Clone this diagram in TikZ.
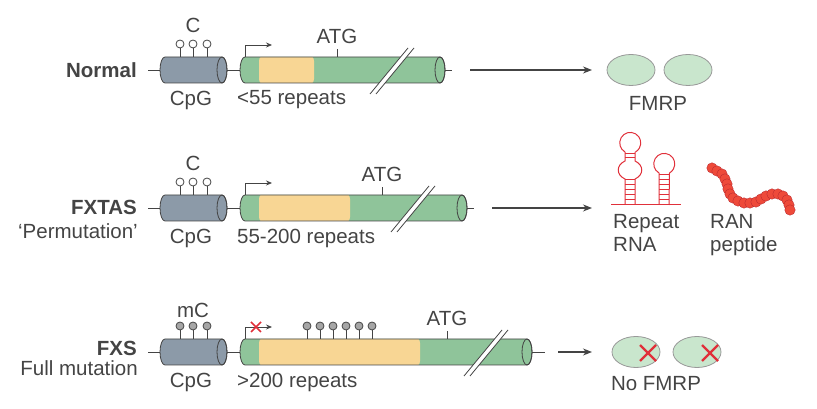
\documentclass[tikz,border=0pt]{standalone}
\usepackage{fontspec}
\setmainfont{Liberation Sans}
\usetikzlibrary{arrows.meta, shapes.geometric}
\definecolor{cpggray}{HTML}{8C9AA8}
\definecolor{genegreen}{HTML}{8FC49A}
\definecolor{repyellow}{HTML}{F8D694}
\definecolor{protgreen}{HTML}{C9E6CD}
\definecolor{rnared}{HTML}{E0303A}
\definecolor{beadred}{HTML}{EE4A3A}
\definecolor{linegray}{HTML}{444444}

% cylinder: #1 left x, #2 right x, #3 axis y, #4 fill
\newcommand{\cylbody}[4]{%
  \fill[#4] (#1+5,#3+13) -- (#2,#3+13) arc[start angle=90,end angle=-90,x radius=5,y radius=13]
    -- (#1+5,#3-13) arc[start angle=270,end angle=90,x radius=5,y radius=13] -- cycle;}
\newcommand{\cyloutline}[3]{%
  \draw[outline] (#1+5,#3+13) -- (#2,#3+13) arc[start angle=90,end angle=-90,x radius=5,y radius=13]
    -- (#1+5,#3-13) arc[start angle=270,end angle=90,x radius=5,y radius=13] -- cycle;
  \draw[outline] (#2,#3) ellipse[x radius=5,y radius=13];}
% gene: #1 left, #2 right, #3 y, #4 yellow start, #5 yellow end
\newcommand{\gene}[5]{%
  \begin{scope}
    \clip (#1+5,#3+13) -- (#2,#3+13) arc[start angle=90,end angle=-90,x radius=5,y radius=13]
      -- (#1+5,#3-13) arc[start angle=270,end angle=90,x radius=5,y radius=13] -- cycle;
    \fill[genegreen] (#1-10,#3-14) rectangle (#2+10,#3+14);
    \fill[repyellow, rounded corners=6pt] (#4,#3-15) rectangle (#5,#3+15);
  \end{scope}
  \cyloutline{#1}{#2}{#3}}
% break mark at #1,#2
\newcommand{\genebreak}[2]{%
  \fill[white] (#1-22,#2-24) -- (#1+16,#2+22) -- (#1+22,#2+22) -- (#1-16,#2-24) -- cycle;
  \draw[outline] (#1-22,#2-24) -- (#1+16,#2+22) (#1-16,#2-24) -- (#1+22,#2+22);}

\tikzset{
  outline/.style={draw=linegray, line width=0.8pt},
  label/.style={font=\fontsize{20.5}{23}\selectfont, text=linegray, inner sep=0pt},
  rowname/.style={font=\fontsize{20.5}{23}\selectfont\bfseries, text=linegray, anchor=east, inner sep=0pt},
  flow/.style={draw=linegray, line width=1.2pt, -{Stealth[length=9pt,width=7pt]}},
  prom/.style={draw=linegray, line width=0.8pt, -{Stealth[length=6pt,width=5pt]}},
  lolly/.style={outline, fill=white},
  mlolly/.style={outline, fill=gray!70},
  fmrp/.style={ellipse, draw=gray!80, line width=0.8pt, fill=protgreen, minimum width=48pt, minimum height=31pt, inner sep=0pt},
  nope/.style={draw=rnared, line width=2.4pt},
  bead/.style={circle, fill=beadred, draw=rnared!80!black, line width=0.3pt, minimum size=10.5pt, inner sep=0pt},
  rna/.style={draw=rnared, line width=1pt}
}

\begin{document}
\begin{tikzpicture}[x=1pt,y=1pt]
\useasboundingbox (0,0) rectangle (817,409);

% ---------- Normal ----------
\node[rowname] (normal) at (137,339) {Normal};
\draw[outline] (148,339) -- (160,339) (222,339) -- (240,339) (440,339) -- (452,339);
\cylbody{160}{222}{339}{cpggray}
\cyloutline{160}{222}{339}
\foreach \x in {180,193,207} {\draw[outline] (\x,352) -- (\x,361); \draw[lolly] (\x,365) circle (4);}
\node[label] (c1) at (193,384) {C};
\gene{240}{440}{339}{259}{314}
\genebreak{392}{339}
\draw[prom] (245,352) -- (245,364) -- (272,364);
\draw[outline] (337,352) -- (337,360);
\node[label] (atg1) at (337,373) {ATG};
\node[label] (cpg1) at (191,309) {CpG};
\node[label, anchor=west] (rep1) at (237,309) {<55 repeats};
\coordinate (a1s) at (470,339);
\coordinate (a1e) at (592,339);
\draw[flow] (a1s) -- (a1e);
\node[fmrp] (p1) at (631,339) {};
\node[fmrp] (p2) at (688,339) {};
\node[label] (fmrp1) at (658,306) {FMRP};

% ---------- FXTAS ----------
\node[rowname] (fxtas) at (137,202) {FXTAS};
\node[label, anchor=east] (perm) at (138,178) {`Permutation'};
\draw[outline] (148,201) -- (160,201) (222,201) -- (240,201) (462,201) -- (474,201);
\cylbody{160}{222}{201}{cpggray}
\cyloutline{160}{222}{201}
\foreach \x in {180,193,207} {\draw[outline] (\x,214) -- (\x,223); \draw[lolly] (\x,227) circle (4);}
\node[label] (c2) at (193,246) {C};
\gene{240}{462}{201}{259}{350}
\genebreak{413}{201}
\draw[prom] (245,214) -- (245,226) -- (272,226);
\draw[outline] (382,214) -- (382,222);
\node[label] (atg2) at (382,235) {ATG};
\node[label] (cpg2) at (191,171) {CpG};
\node[label, anchor=west] (rep2) at (237,171) {55-200 repeats};
\coordinate (a2s) at (492,201);
\coordinate (a2e) at (592,201);
\draw[flow] (a2s) -- (a2e);
% repeat RNA hairpins
\draw[rna] (611,204) -- (681,204);
\draw[rna] (625,204) -- (625,230) .. controls (616,234) and (616,244) .. (625,248) -- (625,257);
\draw[rna] (635,204) -- (635,230) .. controls (644,234) and (644,244) .. (635,248) -- (635,257);
\draw[rna] (625,257) arc[start angle=240,end angle=-60,radius=10.5];
\foreach \y in {209,214,219,224,229,251,255} \draw[rna] (625,\y) -- (635,\y);
\draw[rna] (659,204) -- (659,236) arc[start angle=240,end angle=-60,radius=10.5] -- (669,204);
\foreach \y in {209,214,219,224,229,234} \draw[rna] (659,\y) -- (669,\y);
\node[label, align=left, anchor=north west] (rrna) at (613,195) {Repeat\\RNA};
% RAN peptide
\foreach \px/\py in {712/241,717/238,722/235,725/230,727/225,728/220,730/215,733/211,738/208,744/206,750/206,756/207,761/210,766/213,772/215,778/215,783/213,787/209,789/204,790/199}
  \node[bead] at (\px,\py) {};
\node[label, align=left, anchor=north west] (ran) at (710,195) {RAN\\peptide};

% ---------- FXS ----------
\node[rowname] (fxs) at (137,61) {FXS};
\node[label, anchor=east] (full) at (138,41) {Full mutation};
\draw[outline] (148,57) -- (160,57) (222,57) -- (240,57) (527,57) -- (545,57);
\cylbody{160}{222}{57}{cpggray}
\cyloutline{160}{222}{57}
\foreach \x in {180,193,207} {\draw[outline] (\x,70) -- (\x,79); \draw[mlolly] (\x,83) circle (4);}
\node[label] (mc) at (193,99) {mC};
\gene{240}{527}{57}{259}{420}
\genebreak{486}{57}
\foreach \x in {307,320,333,346,359,372} {\draw[outline] (\x,70) -- (\x,79); \draw[mlolly] (\x,83) circle (4);}
\draw[prom] (245,70) -- (245,82) -- (272,82);
\draw[nope, line width=1.6pt] (251,77) -- (261,87) (251,87) -- (261,77);
\draw[outline] (447,70) -- (447,78);
\node[label] (atg3) at (447,91) {ATG};
\node[label] (cpg3) at (191,27) {CpG};
\node[label, anchor=west] (rep3) at (237,27) {>200 repeats};
\coordinate (a3s) at (558,57);
\coordinate (a3e) at (592,57);
\draw[flow] (a3s) -- (a3e);
\node[fmrp] (p3) at (636,57) {};
\node[fmrp] (p4) at (697,57) {};
\draw[nope] (640,48) -- (656,64) (640,64) -- (656,48);
\draw[nope] (702,48) -- (718,64) (702,64) -- (718,48);
\node[label] (nofmrp) at (656,25) {No FMRP};
\end{tikzpicture}
\end{document}
